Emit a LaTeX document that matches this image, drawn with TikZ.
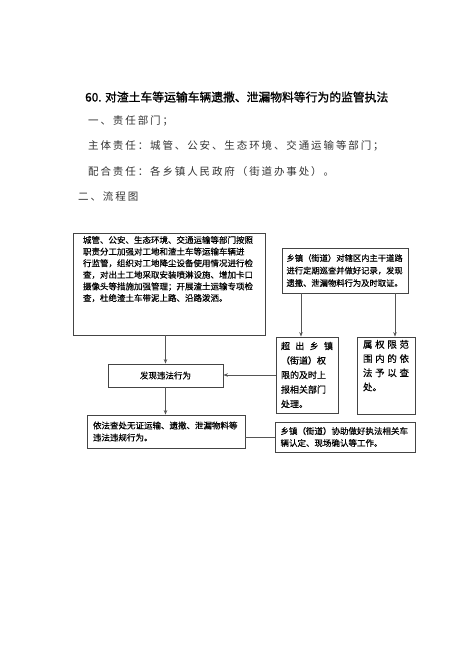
\documentclass[tikz,border=0pt]{standalone}
\usepackage{fontspec}
\usetikzlibrary{arrows.meta}
\setmainfont{Liberation Serif}
\newfontfamily\cjk{Noto Sans CJK SC}
\newfontfamily\cjkb{Noto Sans CJK SC}[FakeBold=1.2]
\newfontfamily\cjksp{Noto Sans CJK SC}[LetterSpace=18]
\newfontfamily\cjkbox{Noto Sans CJK SC}[FakeBold=0.4]
\XeTeXlinebreaklocale "zh"
\XeTeXlinebreakskip=0pt plus 1pt
\definecolor{boxgray}{HTML}{444444}
\definecolor{linegray}{HTML}{555555}
\definecolor{bodytext}{HTML}{333333}
\begin{document}
\begin{tikzpicture}[x=1pt,y=-1pt,
  box/.style={draw=boxgray, line width=0.8pt, inner sep=0pt, font=\cjkbox, text=black},
  conn/.style={draw=linegray, line width=0.8pt},
  arr/.style={conn, -{Stealth[length=4.5pt,width=3.5pt]}},
  bodyline/.style={anchor=west, inner sep=0pt, font=\cjksp\fontsize{10.5}{12}\selectfont, text=bodytext}]
\useasboundingbox[fill=white] (0,0) rectangle (474,670);

% header texts
\node[anchor=west, inner sep=0pt, font=\cjkb\fontsize{11.8}{14}\selectfont] (title) at (85,97)
  {60. 对渣土车等运输车辆遗撒、泄漏物料等行为的监管执法};
\node[bodyline] (l1) at (88,121) {一、责任部门；};
\node[bodyline] (l2) at (88,146) {主体责任：城管、公安、生态环境、交通运输等部门；};
\node[bodyline] (l3) at (88,172) {配合责任：各乡镇人民政府（街道办事处）。};
\node[bodyline] (l4) at (78,197) {二、流程图};

% boxes
\node[box, minimum width=192pt, minimum height=102pt] (b1) at (169,284)
  {\parbox[c][96pt][t]{172pt}{\fontsize{8.5}{11.6}\selectfont\raggedright\noindent
  城管、公安、生态环境、交通运输等部门按照\\
  \makebox[170pt][s]{职责分工加强对工地和渣土车等运输车辆进}\\
  行监管，组织对工地降尘设备使用情况进行检\\
  查，对出土工地采取安装喷淋设施、增加卡口\\
  摄像头等措施加强管理；开展渣土运输专项检\\
  查，杜绝渣土车带泥上路、沿路泼洒。}};

\node[box, minimum width=126pt, minimum height=45pt] (b2) at (345,270.5)
  {\parbox{117pt}{\fontsize{8.3}{12.5}\selectfont\raggedright\noindent
  乡镇（街道）对辖区内主干道路\\
  进行定期巡查并做好记录，发现\\
  遗撒、泄漏物料行为及时取证。}};

\node[box, minimum width=62pt, minimum height=76pt] (b3) at (307,375)
  {\parbox{52pt}{\fontsize{9}{14.5}\selectfont\raggedright\noindent
  \makebox[52pt][s]{超\hfill 出\hfill 乡\hfill 镇}\\
  \makebox[52pt][s]{（街道）权}\\
  \makebox[52pt][s]{限的及时上}\\
  \makebox[52pt][s]{报相关部门}\\
  处理。}};

\node[box, minimum width=58pt, minimum height=77pt] (b4) at (386,375.5)
  {\parbox[c][71pt][t]{46pt}{\fontsize{9.5}{14.2}\selectfont\raggedright\noindent
  \makebox[46pt][s]{属\hfill 权\hfill 限\hfill 范}\\
  \makebox[46pt][s]{围\hfill 内\hfill 的\hfill 依}\\
  \makebox[46pt][s]{法\hfill 予\hfill 以\hfill 查}\\
  处。}};

\node[box, minimum width=115pt, minimum height=23pt, font=\cjkbox\fontsize{8.5}{10}\selectfont] (b5) at (165.5,375.5)
  {发现违法行为};

\node[box, minimum width=158pt, minimum height=33pt] (b6) at (166,431.5)
  {\parbox{146pt}{\fontsize{8.5}{12}\selectfont\raggedright\noindent
  依法查处无证运输、遗撒、泄漏物料等\\
  违法违规行为。}};

\node[box, minimum width=140pt, minimum height=30pt] (b7) at (345,437)
  {\parbox{129pt}{\fontsize{8.5}{12}\selectfont\raggedright\noindent
  乡镇（街道）协助做好执法相关车\\
  辆认定、现场确认等工作。}};

% connectors
\draw[arr] (b5.north |- b1.south) -- (b5.north);
\draw[arr] ([xshift=-6pt]b3.north |- b2.south) -- ([xshift=-6pt]b3.north);
\draw[arr] ([xshift=9pt]b4.north |- b2.south) -- ([xshift=9pt]b4.north);
\draw[arr] (b3.west) -- (b3.west -| b5.east);
\draw[arr] (b5.south) -- (b5.south |- b6.north);
\draw[conn] (b7.west -| b6.east) -- (b7.west);
\end{tikzpicture}
\end{document}
